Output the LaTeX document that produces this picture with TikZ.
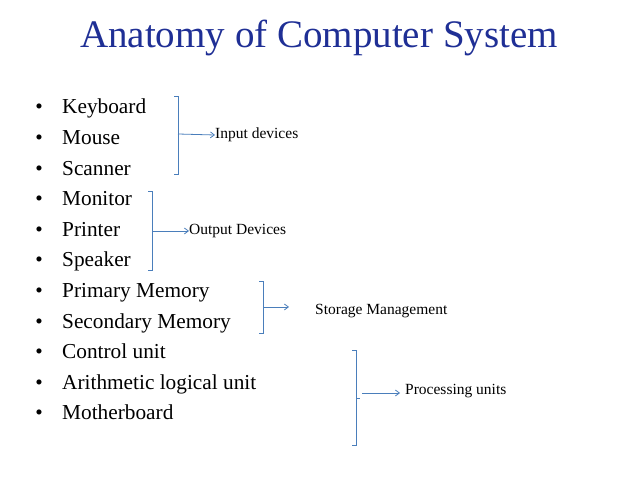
\documentclass[tikz,border=0pt]{standalone}
\usepackage{fontspec}
\setmainfont{Liberation Serif}
\usetikzlibrary{arrows.meta}
\definecolor{ttl}{HTML}{1F2F95}
\definecolor{ln}{HTML}{4A7EBB}
\begin{document}
\begin{tikzpicture}[x=1pt,y=-1pt,
  item/.style={anchor=base west,inner sep=0pt,font=\fontsize{21.3}{24}\selectfont},
  bul/.style={anchor=base,inner sep=0pt,font=\fontsize{21.3}{24}\selectfont},
  lab/.style={anchor=west,inner sep=0pt,font=\fontsize{15.5}{17}\selectfont},
  br/.style={draw=ln,line width=0.8pt},
  arr/.style={draw=ln,line width=0.8pt,-{Straight Barb[length=4pt,width=6pt]}}]
\useasboundingbox (0,0) rectangle (638,478);
\node[inner sep=0pt,text=ttl,font=\fontsize{39}{42}\selectfont] (title) at (319,38) {Anatomy of Computer System};
\foreach \t [count=\i] in {Keyboard,Mouse,Scanner,Monitor,Printer,Speaker,Primary Memory,Secondary Memory,Control unit,Arithmetic logical unit,Motherboard}{
  \node[bul] (b\i) at (39,{114+30.6*(\i-1)}) {\textbullet};
  \node[item] (t\i) at (62,{114+30.6*(\i-1)}) {\t};
}
\draw[br] (174,96) -- (178,96) -- (178,174) -- (174,174);
\coordinate (a1) at (178,134);
\node[lab] (l1) at (215,135) {Input devices};
\draw[arr] (a1) -- (l1.west);
\draw[br] (148,191) -- (152,191) -- (152,270) -- (148,270);
\coordinate (a2) at (152,231);
\node[lab] (l2) at (189,231) {Output Devices};
\draw[arr] (a2) -- (l2.west);
\draw[br] (259,281) -- (263,281) -- (263,333) -- (259,333);
\coordinate (a3) at (263,307);
\coordinate (e3) at (289,307);
\draw[arr] (a3) -- (e3);
\node[lab] (l3) at (315,311) {Storage Management};
\draw[br] (352,350) -- (356,350) -- (356,445) -- (352,445);
\draw[br] (356,398) -- (360,398);
\coordinate (a4) at (362,393);
\coordinate (e4) at (400,393);
\draw[arr] (a4) -- (e4);
\node[lab] (l4) at (405,391) {Processing units};
\end{tikzpicture}
\end{document}
